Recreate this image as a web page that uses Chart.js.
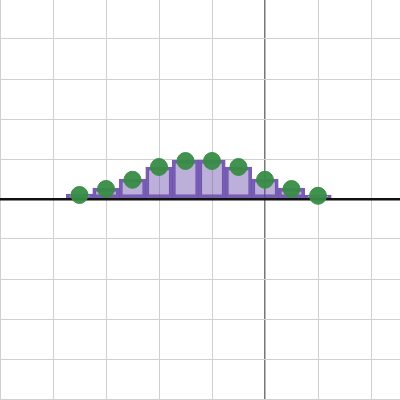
<!DOCTYPE html><html><head><script src="https://cdn.jsdelivr.net/npm/chart.js@4"></script>
<style>html,body{margin:0;padding:0;background:#fff}#w{width:400px;height:400px}</style></head><body><div id="w"><canvas id="c"></canvas></div>
<script>
const xs=[-3.5,-3,-2.5,-2,-1.5,-1,-0.5,0,0.5,1];
const heights=[0.12,0.27,0.5,0.8,0.97,0.97,0.8,0.5,0.27,0.1];
const pts=[0.1,0.25,0.48,0.8,0.95,0.95,0.8,0.48,0.25,0.08];
const xTicks=[-5,-4,-3,-2,-1,0,1,2];
const yTicks=[-5,-4,-3,-2,-1,0,1,2,3,4];
const isZero=c=>c.tick&&Math.abs(c.tick.value)<1e-9;
new Chart(document.getElementById('c'),{
data:{datasets:[
{type:'scatter',data:xs.map((x,i)=>({x,y:pts[i]})),backgroundColor:'rgba(56,140,70,0.95)',borderColor:'rgba(56,140,70,0.95)',pointRadius:8.5,order:0},
{type:'bar',data:xs.map((x,i)=>({x,y:heights[i]})),backgroundColor:'rgba(96,66,166,0.42)',borderColor:'rgba(96,66,166,0.85)',borderWidth:3,borderSkipped:false,barPercentage:1,categoryPercentage:1,order:1}
]},
options:{responsive:true,maintainAspectRatio:false,animation:false,layout:{padding:0,autoPadding:false},
plugins:{legend:{display:false},tooltip:{enabled:false}},
scales:{
x:{type:'linear',offset:false,min:-5,max:2.547,afterBuildTicks:s=>{s.ticks=xTicks.map(v=>({value:v}))},border:{display:false},ticks:{display:false,padding:0},grid:{offset:false,color:c=>isZero(c)?'#777':'#d0d0d0',lineWidth:c=>isZero(c)?1.5:1,drawTicks:false,tickLength:0}},
y:{type:'linear',min:-5.025,max:4.975,afterBuildTicks:s=>{s.ticks=yTicks.map(v=>({value:v}))},border:{display:false},ticks:{display:false,padding:0},grid:{color:c=>isZero(c)?'#111':'#d0d0d0',lineWidth:c=>isZero(c)?2.5:1,drawTicks:false,tickLength:0}}
}}});
</script></body></html>
